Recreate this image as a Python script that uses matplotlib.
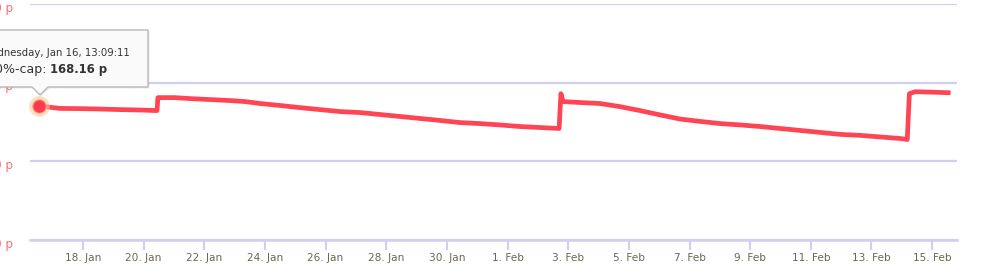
import matplotlib
matplotlib.use("Agg")
import matplotlib.pyplot as plt
import matplotlib.transforms as mtrans
from matplotlib.patches import Polygon
import pandas as pd

# ---- data ----
timestamps = [
    "2019-01-16 13:09", "2019-01-17 05:45", "2019-01-17 21:36", "2019-01-18 13:26",
    "2019-01-19 05:17", "2019-01-19 21:07", "2019-01-20 10:34", "2019-01-20 11:17",
    "2019-01-21 00:43", "2019-01-21 12:43", "2019-01-22 04:34", "2019-01-22 20:24",
    "2019-01-23 08:10", "2019-01-23 20:10", "2019-01-24 12:00", "2019-01-25 03:50",
    "2019-01-25 19:41", "2019-01-26 11:31", "2019-01-27 03:22", "2019-01-27 19:12",
    "2019-01-28 11:02", "2019-01-29 02:38", "2019-01-29 18:29", "2019-01-30 10:19",
    "2019-01-31 02:10", "2019-01-31 18:00", "2019-02-01 09:50", "2019-02-02 01:41",
    "2019-02-02 16:48", "2019-02-02 18:14", "2019-02-02 19:55", "2019-02-03 09:22",
    "2019-02-04 01:12", "2019-02-04 17:02", "2019-02-05 08:53", "2019-02-06 00:43",
    "2019-02-06 16:34", "2019-02-07 08:24", "2019-02-08 00:14", "2019-02-08 16:05",
    "2019-02-09 07:55", "2019-02-09 23:46", "2019-02-10 15:36", "2019-02-11 07:26",
    "2019-02-11 23:17", "2019-02-12 15:07", "2019-02-13 06:58", "2019-02-13 22:48",
    "2019-02-14 04:19", "2019-02-14 06:00", "2019-02-14 10:34", "2019-02-14 22:34",
    "2019-02-15 12:43",
]
values = [
    168.16, 166.9, 166.8, 166.6,
    166.3, 166.1, 165.8, 172.4,
    172.4, 171.9, 171.4, 170.9,
    170.4, 169.4, 168.4, 167.3,
    166.3, 165.3, 164.8, 163.8,
    162.8, 161.8, 160.8, 159.7,
    159.2, 158.5, 157.7, 157.2,
    156.7, 174.4, 170.4, 169.9,
    169.4, 167.8, 165.8, 163.6,
    161.5, 160.3, 159.2, 158.5,
    157.7, 156.7, 155.7, 154.7,
    153.7, 153.2, 152.4, 151.6,
    151.1, 174.4, 175.4, 175.2,
    174.9,
]
y_ticks = [100, 140, 180, 220]
y_tick_labels = ["100 p", "140 p", "180 p", "220 p"]
x_tick_dates = pd.date_range("2019-01-18", "2019-02-15", freq="2D")
tooltip_line1 = "Wednesday, Jan 16, 13:09:11"
tooltip_series = "50%-cap: "
tooltip_value = "168.16 p"

# ---- figure ----
W, H = 983, 278
fig = plt.figure(figsize=(W / 100, H / 100), dpi=100)
fig.patch.set_facecolor("white")

def fx(px):
    return px / W

def fy(py):
    return 1 - py / H

ax = fig.add_axes([fx(30), fy(240), fx(957) - fx(30), fy(4) - fy(240)])
ax.set_facecolor("white")
t = pd.to_datetime(timestamps)
grid_c = "#cfcff2"

ax.plot(t, values, color="#ff4453", lw=3.4, solid_joinstyle="round", zorder=3, clip_on=False)

ax.set_xlim(pd.Timestamp("2019-01-16 06:03"), pd.Timestamp("2019-02-15 19:41"))
ax.set_ylim(100, 220)

for s in ["top", "right", "left"]:
    ax.spines[s].set_visible(False)
ax.spines["bottom"].set_color(grid_c)
ax.spines["bottom"].set_linewidth(1.8)

ax.set_yticks(y_ticks)
ax.set_yticklabels(y_tick_labels)
ax.yaxis.grid(True, color=grid_c, lw=1.6)
ax.tick_params(axis="y", length=0, pad=12.3, labelsize=8.6, labelcolor="#ff6f6f")
ax.set_axisbelow(True)

ax.set_xticks(x_tick_dates)
ax.set_xticklabels([f"{d.day}. {d.strftime('%b')}" for d in x_tick_dates])
ax.tick_params(axis="x", length=7.5, width=1.5, color=grid_c, pad=2,
               labelsize=7.6, labelcolor="#6b6655")

# y labels: shift slightly down
offset = mtrans.ScaledTranslation(0, 3 / 72, fig.dpi_scale_trans)
for lab in ax.get_yticklabels():
    lab.set_verticalalignment("center")
    lab.set_transform(lab.get_transform() - offset)

# hover marker
ax.plot([t[0]], [values[0]], "o", ms=15, color="#f7c98f", alpha=0.55, zorder=4, clip_on=False,
        markeredgewidth=0)
ax.plot([t[0]], [values[0]], "o", ms=9.5, color="#ff3a4a", zorder=5, clip_on=False,
        markeredgecolor="#ff8f80", markeredgewidth=0.8)

# tooltip box
pts = [(-6, 30), (148, 30), (148, 87), (48, 87), (40, 95), (32, 87), (-6, 87)]
shadow = Polygon([(fx(x + 1.5), fy(y + 1.5)) for x, y in pts], closed=True,
                 transform=fig.transFigure, facecolor="#000000", alpha=0.08,
                 edgecolor="none", zorder=9)
fig.patches.append(shadow)
box = Polygon([(fx(x), fy(y)) for x, y in pts], closed=True, transform=fig.transFigure,
              facecolor="#fafafa", edgecolor="#b8b8b8", lw=1.0, zorder=10)
fig.patches.append(box)

fig.text(fx(130), fy(53), tooltip_line1, ha="right", va="center", fontsize=7.3,
         color="#333333", zorder=11)
fig.text(fx(50), fy(70), tooltip_series, ha="right", va="center", fontsize=9.0,
         color="#333333", zorder=11)
fig.text(fx(50), fy(70), tooltip_value, ha="left", va="center", fontsize=8.4,
         color="#333333", fontweight="bold", zorder=11)

fig.savefig("out.png", dpi=100, facecolor="white")
